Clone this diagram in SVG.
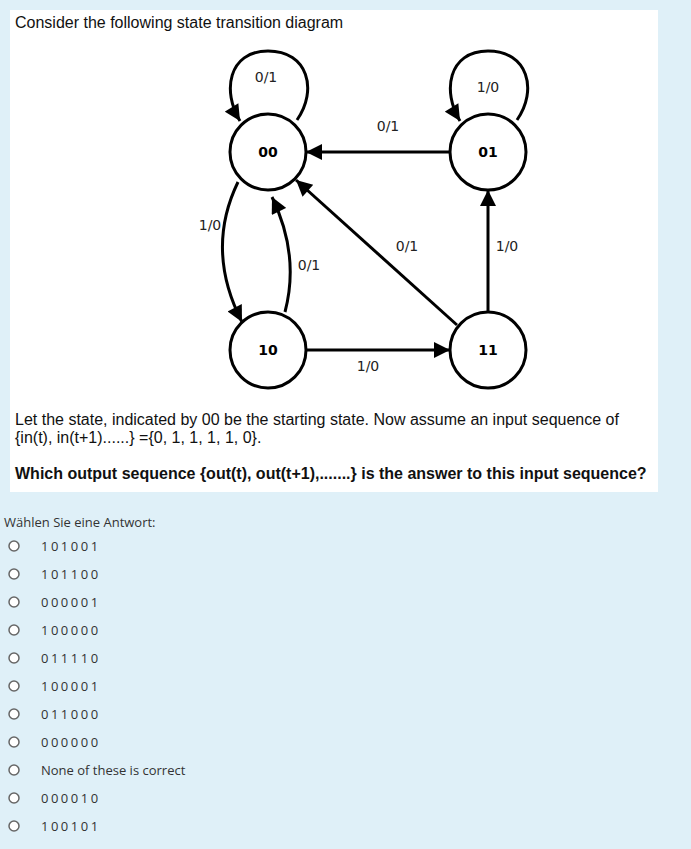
<svg xmlns="http://www.w3.org/2000/svg" width="691" height="849" viewBox="0 0 691 849">
<style>
.n{fill:#fff;stroke:#000;stroke-width:3}
.e{fill:none;stroke:#000;stroke-width:3}
.nl{font-family:"DejaVu Sans",sans-serif;font-weight:bold;font-size:14px;text-anchor:middle}
.el{font-family:"DejaVu Sans",sans-serif;font-size:14px;text-anchor:middle;fill:#222}
.q{font-family:"Liberation Sans",Arial,sans-serif;font-size:16px;fill:#111}
.o{font-family:"Open Sans",sans-serif;font-size:13px;fill:#333}
.r{fill:#fff;stroke:#666;stroke-width:1.5}
</style>
<defs><marker id="b" viewBox="0 0 10 10" refX="10" refY="5" markerWidth="18" markerHeight="16" markerUnits="userSpaceOnUse" orient="auto"><path d="M0,0L10,5L0,10z"/></marker></defs>
<rect width="691" height="849" fill="#dff0f8"/>
<rect x="10" y="10" width="648" height="482" fill="#fff"/>
<text class="q" x="15" y="28">Consider the following state transition diagram</text>
<g id="connectors">
<path class="e" d="M297,120 C318,90 308,51 268,51 C228,51 222,92 240,121" marker-end="url(#b)"/>
<path class="e" d="M517,120 C538,90 528,51 488,51 C448,51 442,92 460,121" marker-end="url(#b)"/>
<path class="e" d="M450,152 L306,152" marker-end="url(#b)"/>
<path class="e" d="M457,325 L296,180" marker-end="url(#b)"/>
<path class="e" d="M488,312 L488,190" marker-end="url(#b)"/>
<path class="e" d="M306,350 L450,350" marker-end="url(#b)"/>
<path class="e" d="M238,182 Q205,250 242,322" marker-end="url(#b)"/>
<path class="e" d="M285,312 Q300,255 272,197" marker-end="url(#b)"/>
<text class="el" x="266" y="82">0/1</text>
<text class="el" x="488" y="92">1/0</text>
<text class="el" x="388" y="131">0/1</text>
<text class="el" x="210" y="230">1/0</text>
<text class="el" x="309" y="270">0/1</text>
<text class="el" x="407" y="251">0/1</text>
<text class="el" x="507" y="251">1/0</text>
<text class="el" x="368" y="371">1/0</text>
</g>
<g id="n00"><circle class="n" cx="268" cy="152" r="38"/><text class="nl" x="268" y="157">00</text></g>
<g id="n01"><circle class="n" cx="488" cy="152" r="38"/><text class="nl" x="488" y="157">01</text></g>
<g id="n10"><circle class="n" cx="268" cy="350" r="38"/><text class="nl" x="268" y="355">10</text></g>
<g id="n11"><circle class="n" cx="488" cy="350" r="38"/><text class="nl" x="488" y="355">11</text></g>
<text class="q" x="15" y="425">Let the state, indicated by 00 be the starting state. Now assume an input sequence of</text>
<text class="q" x="15" y="443">{in(t), in(t+1)......} ={0, 1, 1, 1, 1, 0}.</text>
<text class="q" x="15" y="479" font-weight="bold">Which output sequence {out(t), out(t+1),.......} is the answer to this input sequence?</text>
<text class="o" x="4" y="527">Wählen Sie eine Antwort:</text>
<g class="o">
<circle class="r" cx="14" cy="546" r="5"/><text x="41" y="551" letter-spacing="2.5">101001</text>
<circle class="r" cx="14" cy="574" r="5"/><text x="41" y="579" letter-spacing="2.5">101100</text>
<circle class="r" cx="14" cy="602" r="5"/><text x="41" y="607" letter-spacing="2.5">000001</text>
<circle class="r" cx="14" cy="630" r="5"/><text x="41" y="635" letter-spacing="2.5">100000</text>
<circle class="r" cx="14" cy="658" r="5"/><text x="41" y="663" letter-spacing="2.5">011110</text>
<circle class="r" cx="14" cy="686" r="5"/><text x="41" y="691" letter-spacing="2.5">100001</text>
<circle class="r" cx="14" cy="714" r="5"/><text x="41" y="719" letter-spacing="2.5">011000</text>
<circle class="r" cx="14" cy="742" r="5"/><text x="41" y="747" letter-spacing="2.5">000000</text>
<circle class="r" cx="14" cy="770" r="5"/><text x="41" y="775">None of these is correct</text>
<circle class="r" cx="14" cy="798" r="5"/><text x="41" y="803" letter-spacing="2.5">000010</text>
<circle class="r" cx="14" cy="826" r="5"/><text x="41" y="831" letter-spacing="2.5">100101</text>
</g>
</svg>
